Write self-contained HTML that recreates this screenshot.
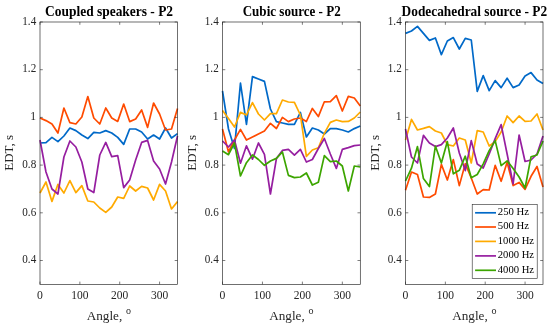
<!DOCTYPE html>
<html><head><meta charset="utf-8"><title>EDT vs angle</title>
<style>
html,body{margin:0;padding:0;background:#fff;}
svg{display:block;font-family:"Liberation Serif","DejaVu Serif",serif;}
.ax{stroke:#262626;stroke-width:0.66;fill:none;}
.tk{stroke:#262626;stroke-width:0.6;fill:none;}
.tl{font-size:11.7px;fill:#262626;}
.lb{font-size:13px;fill:#262626;}
.tt{font-size:13.7px;font-weight:bold;fill:#000;}
.lg{font-size:10.3px;fill:#000;}
.ln{fill:none;stroke-width:1.7;stroke-linejoin:round;stroke-linecap:butt;}
</style></head><body>
<svg width="550" height="328" viewBox="0 0 550 328">
<rect x="0" y="0" width="550" height="328" fill="#ffffff"/>

<g>
<polyline class="ln" stroke="#0069C8" points="40.00,143.00 45.98,142.60 51.96,137.40 57.93,141.60 63.91,136.00 69.89,128.00 75.87,130.60 81.85,135.00 87.83,138.60 93.80,132.40 99.78,133.00 105.76,130.60 111.74,133.00 117.72,137.40 123.70,144.40 129.67,129.00 135.65,129.00 141.63,132.00 147.61,139.00 153.59,135.00 159.57,139.00 165.54,128.00 171.52,138.00 177.50,133.60"/>
<polyline class="ln" stroke="#FF4B00" points="40.00,118.00 45.98,120.60 51.96,124.00 57.93,133.00 63.91,108.00 69.89,122.60 75.87,124.00 81.85,117.00 87.83,96.60 93.80,118.00 99.78,124.00 105.76,108.00 111.74,118.00 117.72,121.40 123.70,104.00 129.67,121.60 135.65,119.00 141.63,110.00 147.61,127.40 153.59,103.00 159.57,114.00 165.54,130.00 171.52,129.00 177.50,108.60"/>
<polyline class="ln" stroke="#FFAA00" points="40.00,193.00 45.98,182.00 51.96,201.40 57.93,184.40 63.91,193.00 69.89,180.60 75.87,192.60 81.85,185.60 87.83,201.00 93.80,202.00 99.78,208.00 105.76,212.40 111.74,207.00 117.72,197.00 123.70,198.40 129.67,186.00 135.65,191.00 141.63,186.40 147.61,188.00 153.59,200.00 159.57,184.40 165.54,191.00 171.52,209.00 177.50,201.60"/>
<polyline class="ln" stroke="#961EA0" points="40.00,140.00 45.98,172.00 51.96,189.00 57.93,194.00 63.91,157.00 69.89,141.00 75.87,147.00 81.85,162.00 87.83,189.00 93.80,192.60 99.78,155.00 105.76,142.40 111.74,156.60 117.72,155.60 123.70,187.60 129.67,180.00 135.65,160.00 141.63,142.40 147.61,140.40 153.59,161.00 159.57,169.00 165.54,184.00 171.52,162.00 177.50,136.00"/>
<rect class="ax" x="40.0" y="22.0" width="137.50" height="262.40"/>
<path class="tk" d="M40.00 284.4v-2.8M40.00 22.0v2.8M79.86 284.4v-2.8M79.86 22.0v2.8M119.71 284.4v-2.8M119.71 22.0v2.8M159.57 284.4v-2.8M159.57 22.0v2.8M40.0 260.50h2.8M177.5 260.50h-2.8M40.0 212.80h2.8M177.5 212.80h-2.8M40.0 165.10h2.8M177.5 165.10h-2.8M40.0 117.40h2.8M177.5 117.40h-2.8M40.0 69.70h2.8M177.5 69.70h-2.8M40.0 22.00h2.8M177.5 22.00h-2.8"/>
<text class="tl" x="40.00" y="298.5" text-anchor="middle">0</text>
<text class="tl" x="79.86" y="298.5" text-anchor="middle" textLength="17.2" lengthAdjust="spacingAndGlyphs">100</text>
<text class="tl" x="119.71" y="298.5" text-anchor="middle" textLength="17.2" lengthAdjust="spacingAndGlyphs">200</text>
<text class="tl" x="159.57" y="298.5" text-anchor="middle" textLength="17.2" lengthAdjust="spacingAndGlyphs">300</text>
<text class="tl" x="36.20" y="263.20" text-anchor="end" textLength="13.9" lengthAdjust="spacingAndGlyphs">0.4</text>
<text class="tl" x="36.20" y="215.50" text-anchor="end" textLength="13.9" lengthAdjust="spacingAndGlyphs">0.6</text>
<text class="tl" x="36.20" y="167.80" text-anchor="end" textLength="13.9" lengthAdjust="spacingAndGlyphs">0.8</text>
<text class="tl" x="36.20" y="120.10" text-anchor="end">1</text>
<text class="tl" x="36.20" y="72.40" text-anchor="end" textLength="13.9" lengthAdjust="spacingAndGlyphs">1.2</text>
<text class="tl" x="36.20" y="24.70" text-anchor="end" textLength="13.9" lengthAdjust="spacingAndGlyphs">1.4</text>
<text class="lb" x="86.70" y="319.8" textLength="35.6" lengthAdjust="spacingAndGlyphs">Angle,</text>
<text class="lb" style="font-size:10px" x="125.90" y="314.3">o</text>
<text class="lb" transform="translate(13.30,152.8) rotate(-90)" text-anchor="middle">EDT, s</text>
<text class="tt" x="45.1" y="15.6" textLength="128.0" lengthAdjust="spacingAndGlyphs">Coupled speakers - P2</text>
</g>
<g>
<polyline class="ln" stroke="#0069C8" points="222.50,91.00 228.49,129.00 234.48,148.50 240.47,83.00 246.47,124.40 252.46,76.60 258.45,79.00 264.44,81.40 270.43,109.00 276.42,121.60 282.41,123.00 288.40,124.40 294.40,124.40 300.39,112.40 306.38,137.00 312.37,128.00 318.36,130.00 324.35,134.00 330.34,128.60 336.33,128.60 342.33,130.00 348.32,132.00 354.31,128.60 360.30,126.00"/>
<polyline class="ln" stroke="#FF4B00" points="222.50,129.00 228.49,152.00 234.48,140.00 240.47,129.40 246.47,140.00 252.46,137.00 258.45,134.00 264.44,131.00 270.43,123.30 276.42,128.50 282.41,117.40 288.40,121.60 294.40,119.00 300.39,118.00 306.38,121.50 312.37,108.40 318.36,116.60 324.35,101.80 330.34,101.60 336.33,95.60 342.33,111.00 348.32,96.40 354.31,98.00 360.30,106.00"/>
<polyline class="ln" stroke="#FFAA00" points="222.50,110.60 228.49,118.60 234.48,127.00 240.47,112.40 246.47,115.00 252.46,102.60 258.45,114.00 264.44,120.00 270.43,113.60 276.42,113.60 282.41,100.00 288.40,102.00 294.40,102.40 300.39,115.00 306.38,156.40 312.37,150.00 318.36,147.80 324.35,133.30 330.34,122.40 336.33,120.00 342.33,121.60 348.32,121.40 354.31,118.00 360.30,112.00"/>
<polyline class="ln" stroke="#961EA0" points="222.50,141.00 228.49,147.00 234.48,140.00 240.47,163.20 246.47,145.80 252.46,159.20 258.45,143.00 264.44,154.40 270.43,194.00 276.42,158.60 282.41,150.40 288.40,149.40 294.40,155.20 300.39,149.40 306.38,162.00 312.37,159.50 318.36,148.50 324.35,138.50 330.34,154.00 336.33,168.40 342.33,149.40 348.32,147.60 354.31,145.60 360.30,145.00"/>
<polyline class="ln" stroke="#3CA500" points="222.50,151.00 228.49,154.70 234.48,143.00 240.47,176.00 246.47,162.70 252.46,155.00 258.45,159.50 264.44,165.30 270.43,161.00 276.42,158.40 282.41,152.00 288.40,175.40 294.40,177.60 300.39,177.00 306.38,173.00 312.37,185.00 318.36,182.20 324.35,155.60 330.34,161.60 336.33,161.00 342.33,166.00 348.32,191.00 354.31,166.00 360.30,167.00"/>
<rect class="ax" x="222.5" y="22.0" width="137.80" height="262.40"/>
<path class="tk" d="M222.50 284.4v-2.8M222.50 22.0v2.8M262.44 284.4v-2.8M262.44 22.0v2.8M302.38 284.4v-2.8M302.38 22.0v2.8M342.33 284.4v-2.8M342.33 22.0v2.8M222.5 260.50h2.8M360.3 260.50h-2.8M222.5 212.80h2.8M360.3 212.80h-2.8M222.5 165.10h2.8M360.3 165.10h-2.8M222.5 117.40h2.8M360.3 117.40h-2.8M222.5 69.70h2.8M360.3 69.70h-2.8M222.5 22.00h2.8M360.3 22.00h-2.8"/>
<text class="tl" x="222.50" y="298.5" text-anchor="middle">0</text>
<text class="tl" x="262.44" y="298.5" text-anchor="middle" textLength="17.2" lengthAdjust="spacingAndGlyphs">100</text>
<text class="tl" x="302.38" y="298.5" text-anchor="middle" textLength="17.2" lengthAdjust="spacingAndGlyphs">200</text>
<text class="tl" x="342.33" y="298.5" text-anchor="middle" textLength="17.2" lengthAdjust="spacingAndGlyphs">300</text>
<text class="tl" x="218.70" y="263.20" text-anchor="end" textLength="13.9" lengthAdjust="spacingAndGlyphs">0.4</text>
<text class="tl" x="218.70" y="215.50" text-anchor="end" textLength="13.9" lengthAdjust="spacingAndGlyphs">0.6</text>
<text class="tl" x="218.70" y="167.80" text-anchor="end" textLength="13.9" lengthAdjust="spacingAndGlyphs">0.8</text>
<text class="tl" x="218.70" y="120.10" text-anchor="end">1</text>
<text class="tl" x="218.70" y="72.40" text-anchor="end" textLength="13.9" lengthAdjust="spacingAndGlyphs">1.2</text>
<text class="tl" x="218.70" y="24.70" text-anchor="end" textLength="13.9" lengthAdjust="spacingAndGlyphs">1.4</text>
<text class="lb" x="269.20" y="319.8" textLength="35.6" lengthAdjust="spacingAndGlyphs">Angle,</text>
<text class="lb" style="font-size:10px" x="308.40" y="314.3">o</text>
<text class="lb" transform="translate(195.80,152.8) rotate(-90)" text-anchor="middle">EDT, s</text>
<text class="tt" x="242.7" y="15.6" textLength="98.0" lengthAdjust="spacingAndGlyphs">Cubic source - P2</text>
</g>
<g>
<polyline class="ln" stroke="#0069C8" points="405.50,33.40 411.48,31.00 417.46,26.40 423.43,33.40 429.41,40.40 435.39,38.00 441.37,54.60 447.35,41.00 453.33,37.60 459.30,49.00 465.28,38.40 471.26,40.00 477.24,91.40 483.22,75.60 489.20,90.60 495.17,80.60 501.15,87.60 507.13,78.20 513.11,87.60 519.09,85.00 525.07,76.00 531.04,72.60 537.02,80.00 543.00,83.60"/>
<polyline class="ln" stroke="#FF4B00" points="405.50,190.30 411.48,172.00 417.46,174.50 423.43,197.00 429.41,197.40 435.39,194.00 441.37,164.40 447.35,180.00 453.33,159.60 459.30,185.60 465.28,163.60 471.26,178.00 477.24,194.00 483.22,189.60 489.20,190.00 495.17,165.40 501.15,181.30 507.13,162.30 513.11,185.60 519.09,182.40 525.07,189.40 531.04,176.30 537.02,166.50 543.00,187.00"/>
<polyline class="ln" stroke="#FFAA00" points="405.50,140.00 411.48,119.40 417.46,130.00 423.43,128.40 429.41,126.60 435.39,131.00 441.37,133.00 447.35,144.60 453.33,146.00 459.30,138.00 465.28,140.00 471.26,163.00 477.24,130.60 483.22,132.00 489.20,146.00 495.17,141.60 501.15,132.00 507.13,116.00 513.11,122.60 519.09,116.00 525.07,121.40 531.04,121.00 537.02,114.00 543.00,130.00"/>
<polyline class="ln" stroke="#961EA0" points="405.50,129.00 411.48,157.00 417.46,163.00 423.43,135.40 429.41,143.00 435.39,146.60 441.37,144.60 447.35,138.00 453.33,128.00 459.30,153.00 465.28,170.60 471.26,140.60 477.24,164.00 483.22,168.00 489.20,154.00 495.17,138.60 501.15,124.60 507.13,154.00 513.11,184.00 519.09,135.00 525.07,161.50 531.04,160.00 537.02,154.00 543.00,136.00"/>
<polyline class="ln" stroke="#3CA500" points="405.50,181.00 411.48,168.20 417.46,146.60 423.43,178.60 429.41,186.60 435.39,146.00 441.37,163.00 447.35,141.60 453.33,173.80 459.30,170.30 465.28,156.20 471.26,177.70 477.24,174.50 483.22,163.80 489.20,150.60 495.17,140.60 501.15,165.60 507.13,160.80 513.11,168.50 519.09,177.00 525.07,188.00 531.04,156.80 537.02,155.00 543.00,141.00"/>
<rect class="ax" x="405.5" y="22.0" width="137.50" height="262.40"/>
<path class="tk" d="M405.50 284.4v-2.8M405.50 22.0v2.8M445.36 284.4v-2.8M445.36 22.0v2.8M485.21 284.4v-2.8M485.21 22.0v2.8M525.07 284.4v-2.8M525.07 22.0v2.8M405.5 260.50h2.8M543.0 260.50h-2.8M405.5 212.80h2.8M543.0 212.80h-2.8M405.5 165.10h2.8M543.0 165.10h-2.8M405.5 117.40h2.8M543.0 117.40h-2.8M405.5 69.70h2.8M543.0 69.70h-2.8M405.5 22.00h2.8M543.0 22.00h-2.8"/>
<text class="tl" x="405.50" y="298.5" text-anchor="middle">0</text>
<text class="tl" x="445.36" y="298.5" text-anchor="middle" textLength="17.2" lengthAdjust="spacingAndGlyphs">100</text>
<text class="tl" x="485.21" y="298.5" text-anchor="middle" textLength="17.2" lengthAdjust="spacingAndGlyphs">200</text>
<text class="tl" x="525.07" y="298.5" text-anchor="middle" textLength="17.2" lengthAdjust="spacingAndGlyphs">300</text>
<text class="tl" x="401.70" y="263.20" text-anchor="end" textLength="13.9" lengthAdjust="spacingAndGlyphs">0.4</text>
<text class="tl" x="401.70" y="215.50" text-anchor="end" textLength="13.9" lengthAdjust="spacingAndGlyphs">0.6</text>
<text class="tl" x="401.70" y="167.80" text-anchor="end" textLength="13.9" lengthAdjust="spacingAndGlyphs">0.8</text>
<text class="tl" x="401.70" y="120.10" text-anchor="end">1</text>
<text class="tl" x="401.70" y="72.40" text-anchor="end" textLength="13.9" lengthAdjust="spacingAndGlyphs">1.2</text>
<text class="tl" x="401.70" y="24.70" text-anchor="end" textLength="13.9" lengthAdjust="spacingAndGlyphs">1.4</text>
<text class="lb" x="452.20" y="319.8" textLength="35.6" lengthAdjust="spacingAndGlyphs">Angle,</text>
<text class="lb" style="font-size:10px" x="491.40" y="314.3">o</text>
<text class="lb" transform="translate(378.80,152.8) rotate(-90)" text-anchor="middle">EDT, s</text>
<text class="tt" x="401.6" y="15.6" textLength="145.5" lengthAdjust="spacingAndGlyphs">Dodecahedral source - P2</text>
</g>
<rect x="472.2" y="204.6" width="65.00" height="73.70" fill="#fff" stroke="#262626" stroke-width="0.6"/>
<line x1="475.1" x2="496" y1="212.8" y2="212.8" stroke="#0069C8" stroke-width="1.7"/>
<text class="lg" x="497.8" y="215.20" textLength="31.3" lengthAdjust="spacingAndGlyphs">250 Hz</text>
<line x1="475.1" x2="496" y1="227.0" y2="227.0" stroke="#FF4B00" stroke-width="1.7"/>
<text class="lg" x="497.8" y="229.40" textLength="31.3" lengthAdjust="spacingAndGlyphs">500 Hz</text>
<line x1="475.1" x2="496" y1="241.4" y2="241.4" stroke="#FFAA00" stroke-width="1.7"/>
<text class="lg" x="497.8" y="243.80" textLength="36.3" lengthAdjust="spacingAndGlyphs">1000 Hz</text>
<line x1="475.1" x2="496" y1="255.9" y2="255.9" stroke="#961EA0" stroke-width="1.7"/>
<text class="lg" x="497.8" y="258.30" textLength="36.3" lengthAdjust="spacingAndGlyphs">2000 Hz</text>
<line x1="475.1" x2="496" y1="270.3" y2="270.3" stroke="#3CA500" stroke-width="1.7"/>
<text class="lg" x="497.8" y="272.70" textLength="36.3" lengthAdjust="spacingAndGlyphs">4000 Hz</text>
</svg></body></html>
